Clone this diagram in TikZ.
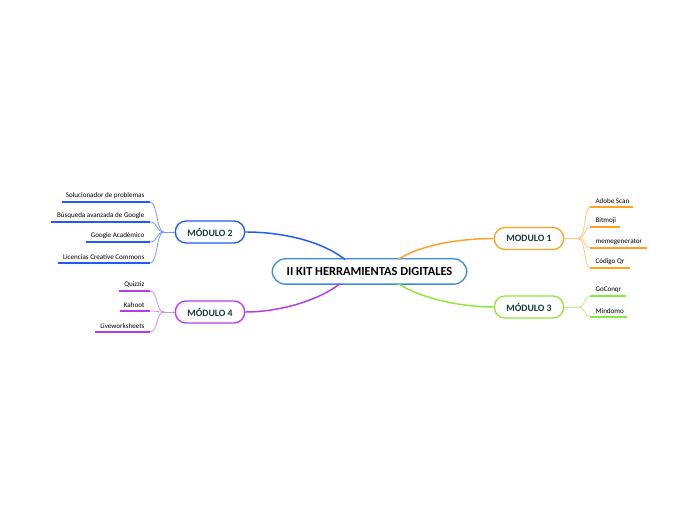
\documentclass[tikz,border=0pt]{standalone}
\usepackage{fontspec}
\setmainfont{Carlito}
\definecolor{cb}{HTML}{1F5BF5}
\definecolor{cp}{HTML}{B53CEB}
\definecolor{co}{HTML}{FFA125}
\definecolor{cg}{HTML}{8CE83A}
\definecolor{cc}{HTML}{3C8ED6}
\definecolor{tx}{HTML}{173A3A}
\begin{document}
\begin{tikzpicture}[x=0.75pt,y=-0.75pt,
  mod/.style={draw=#1,line width=1pt,rounded corners=8pt,minimum width=52pt,minimum height=16.5pt,fill=white,font=\bfseries\fontsize{7.3}{8}\selectfont,text=tx},
  leaf/.style={font=\fontsize{5.3}{6}\selectfont,inner sep=1pt},
  br/.style={draw=#1,line width=1.1pt},
  tw/.style={draw=#1!60,line width=0.6pt},
  ul/.style={draw=#1,line width=1.5pt}]
\useasboundingbox (0,0) rectangle (697,520);
\node[draw=cc,line width=1pt,rounded corners=10pt,minimum width=146pt,minimum height=19pt,font=\bfseries\fontsize{9.3}{10}\selectfont,text=black] (c) at (369.5,271.5) {II KIT HERRAMIENTAS DIGITALES};
\node[mod=cb] (m2) at (210,232) {MÓDULO 2};
\node[mod=cp] (m4) at (210,312) {MÓDULO 4};
\node[mod=co] (m1) at (529,238.5) {MODULO 1};
\node[mod=cg] (m3) at (529,307) {MÓDULO 3};
\coordinate (c2) at (345,259.5);
\coordinate (c4) at (340,283.5);
\coordinate (c1) at (398,259.5);
\coordinate (c3) at (398,283.5);
\draw[br=cb] (c2) .. controls (320,240) and (280,232) .. (m2.east);
\draw[br=cp] (c4) .. controls (320,300) and (280,312) .. (m4.east);
\draw[br=co] (c1) .. controls (420,245) and (460,238.5) .. (m1.west);
\draw[br=cg] (c3) .. controls (420,298) and (460,307) .. (m3.west);
\coordinate (f2) at (164,232);
\draw[tw=cb] (m2.west) -- (f2);
\foreach \n/\y/\xl/\t in {a/202/62/Solucionador de problemas,b/222/51/Búsqueda avanzada de Google,c/242/86/Google Académico,d/263/58/Licencias Creative Commons}{
  \coordinate (e2\n) at (150,\y);
  \coordinate (s2\n) at (\xl,\y);
  \draw[tw=cb] (f2) .. controls (156,232) and (158,\y) .. (e2\n);
  \draw[ul=cb] (s2\n) -- (e2\n);
  \node[leaf,anchor=south east] (l2\n) at (146,\y-2) {\t};
}
\coordinate (f4) at (164,312);
\draw[tw=cp] (m4.west) -- (f4);
\foreach \n/\y/\xl/\t in {a/291/119/Quizziz,b/311/120/Kahoot,c/332/95/Liveworksheets}{
  \coordinate (e4\n) at (150,\y);
  \coordinate (s4\n) at (\xl,\y);
  \draw[tw=cp] (f4) .. controls (156,312) and (158,\y) .. (e4\n);
  \draw[ul=cp] (s4\n) -- (e4\n);
  \node[leaf,anchor=south east] (l4\n) at (146,\y-2) {\t};
}
\coordinate (f1) at (578,238.5);
\draw[tw=co] (m1.east) -- (f1);
\foreach \n/\y/\xr/\t in {a/207/633/Adobe Scan,b/227/620/Bitmoji,c/248/647/memegenerator,d/268/630/Código Qr}{
  \coordinate (e1\n) at (590,\y);
  \coordinate (s1\n) at (\xr,\y);
  \draw[tw=co] (f1) .. controls (586,238.5) and (584,\y) .. (e1\n);
  \draw[ul=co] (e1\n) -- (s1\n);
  \node[leaf,anchor=south west] (l1\n) at (594,\y-2) {\t};
}
\coordinate (f3) at (578,307);
\draw[tw=cg] (m3.east) -- (f3);
\foreach \n/\y/\xr/\t in {a/296/626/GoConqr,b/317/627/Mindomo}{
  \coordinate (e3\n) at (590,\y);
  \coordinate (s3\n) at (\xr,\y);
  \draw[tw=cg] (f3) .. controls (586,307) and (584,\y) .. (e3\n);
  \draw[ul=cg] (e3\n) -- (s3\n);
  \node[leaf,anchor=south west] (l3\n) at (594,\y-2) {\t};
}
\end{tikzpicture}
\end{document}
